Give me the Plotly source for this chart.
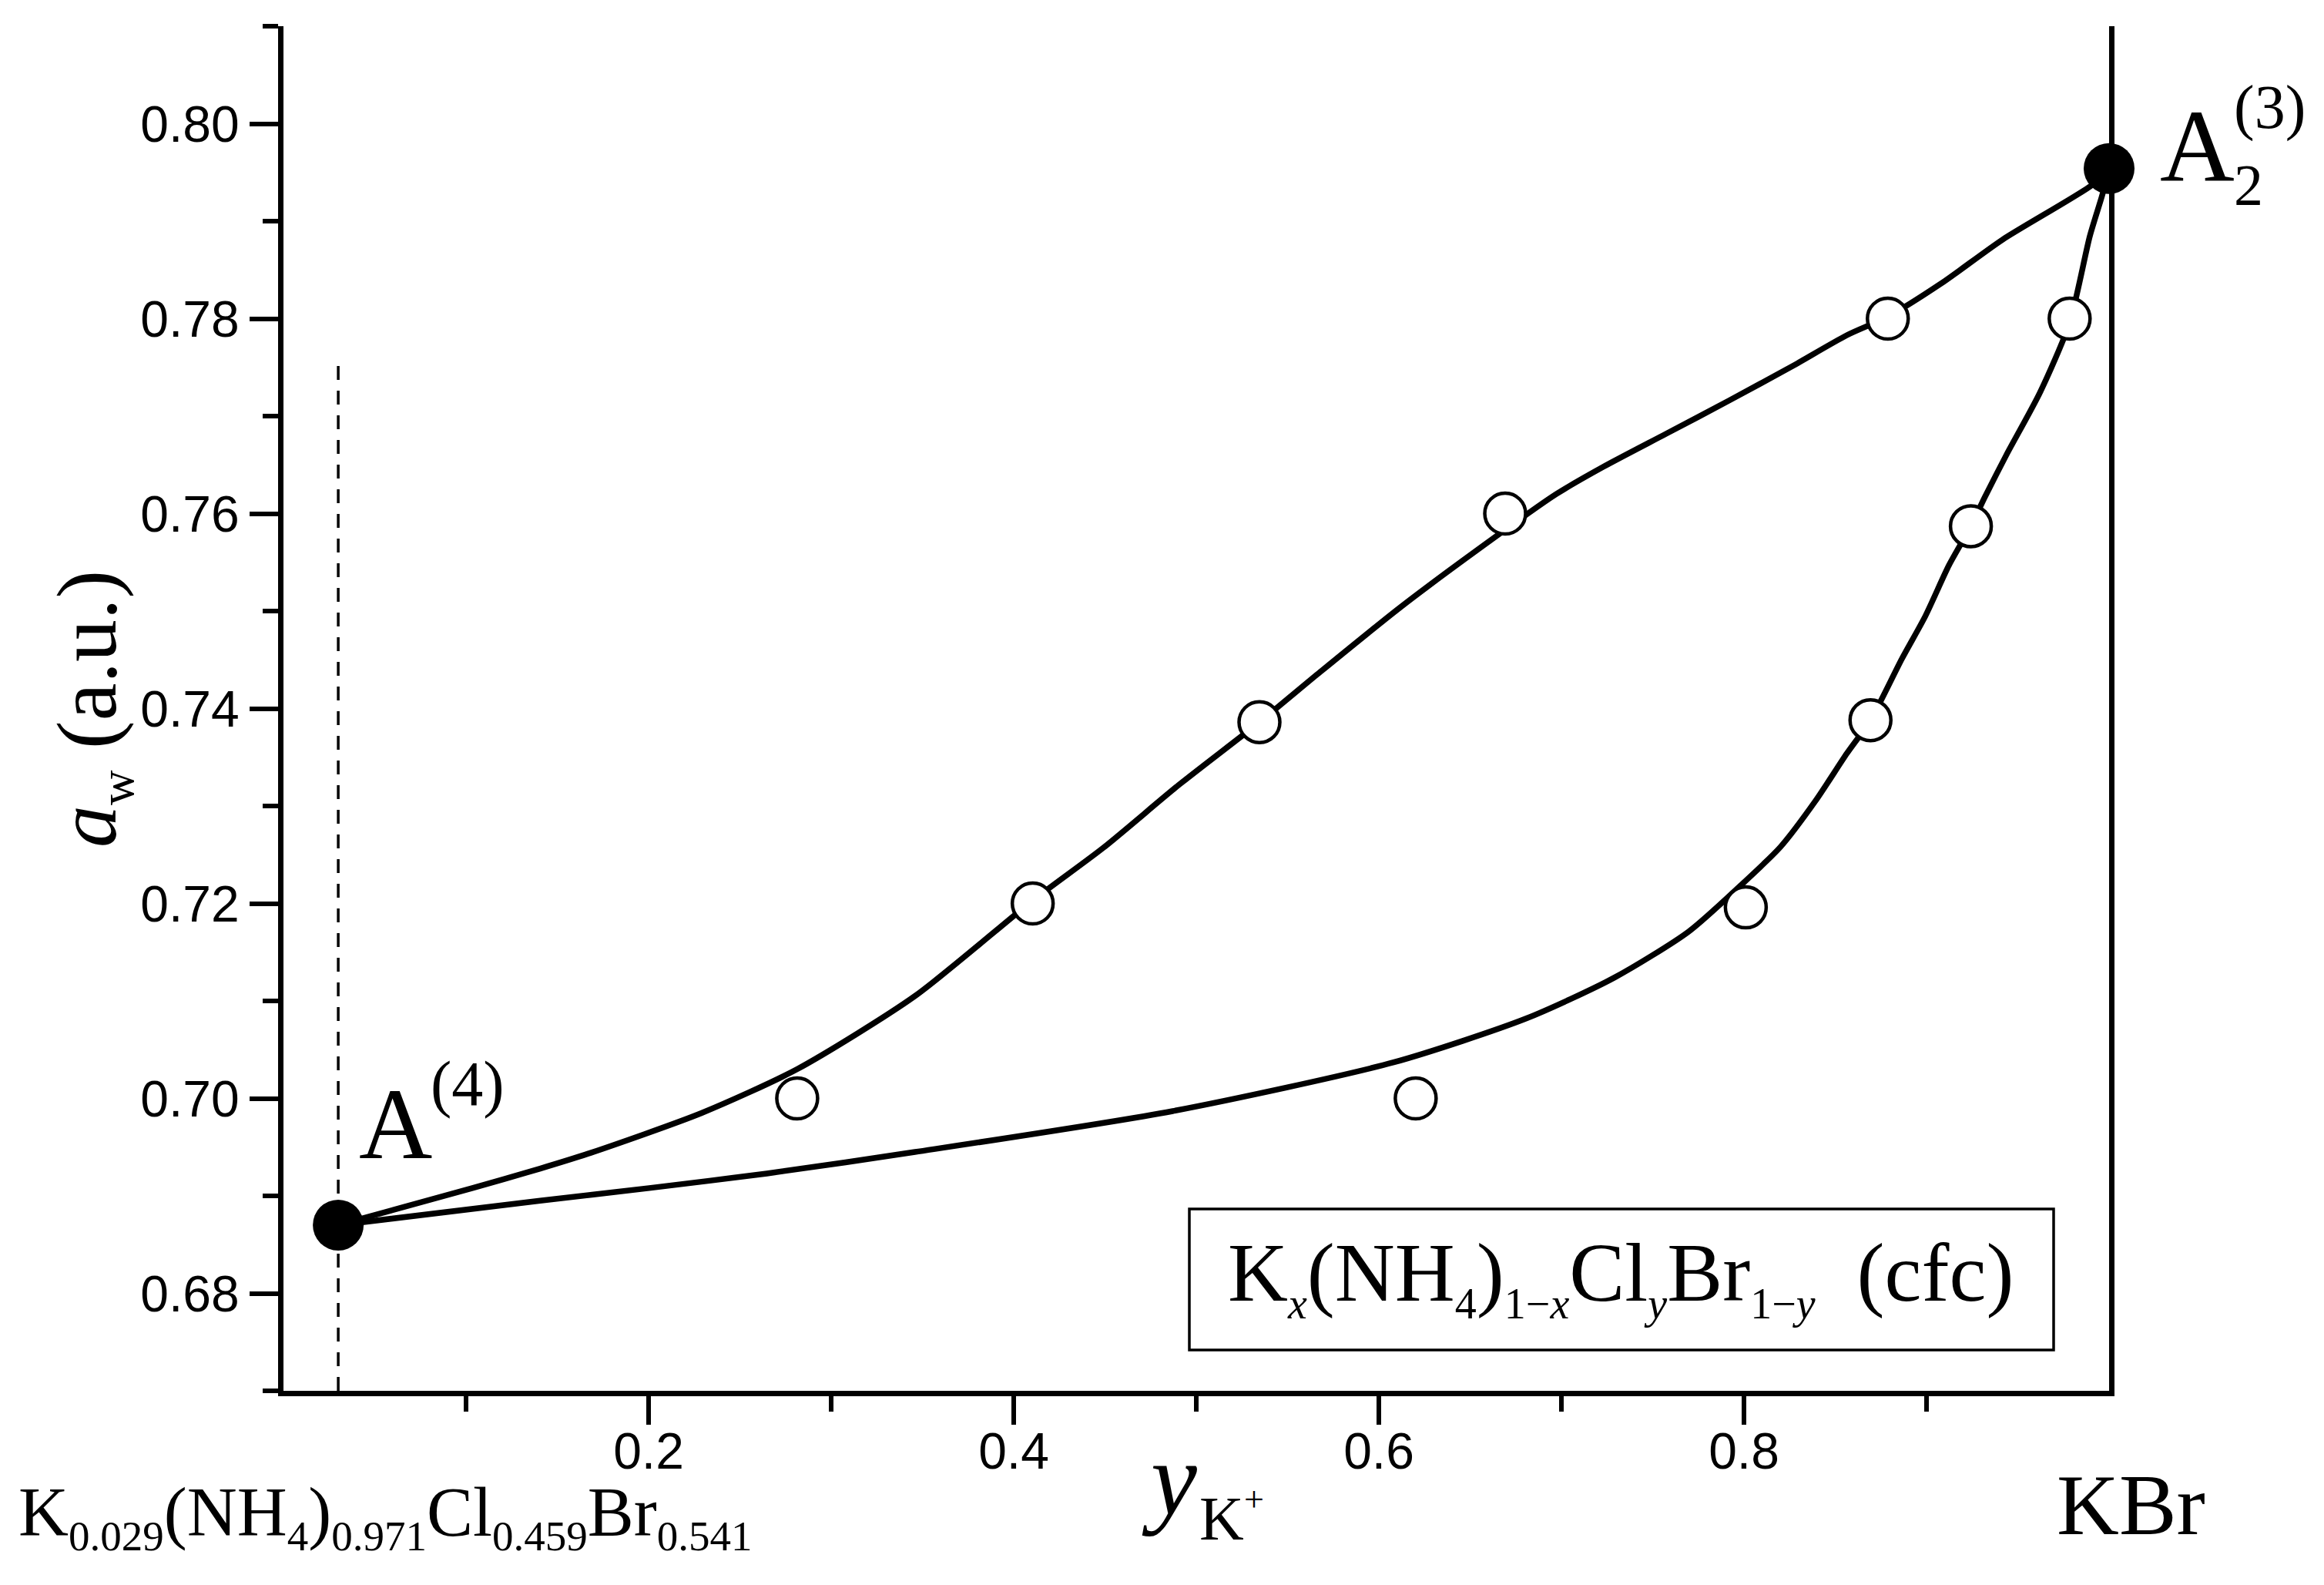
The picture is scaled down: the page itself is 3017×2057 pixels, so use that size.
import plotly.graph_objects as go

# ---------------- data ----------------
upper_curve_x = [0.030, 0.1035, 0.1406, 0.1680, 0.2290, 0.2814, 0.3459, 0.4104, 0.4490, 0.4907,
                 0.5346, 0.5682, 0.6112, 0.6542, 0.6972, 0.7230, 0.7575, 0.7919, 0.8263, 0.8564,
                 0.8788, 0.9080, 0.9416, 0.9906, 1.000]
upper_curve_y = [0.6870, 0.6908, 0.6928, 0.6944, 0.6985, 0.7030, 0.7105, 0.7203, 0.7257, 0.7322,
                 0.7386, 0.7438, 0.7503, 0.7563, 0.7620, 0.7648, 0.7682, 0.7716, 0.7751, 0.7783,
                 0.7802, 0.7836, 0.7881, 0.7937, 0.7954]

lower_curve_x = [0.030, 0.1406, 0.2003, 0.2648, 0.3459, 0.4871, 0.6081, 0.6807, 0.7291, 0.7696,
                 0.7979, 0.8200, 0.8391, 0.8564, 0.8693, 0.8865, 0.8994, 0.9123, 0.9243, 0.9317,
                 0.9437, 0.9621, 0.9784, 0.9895, 0.9963, 1.000]
lower_curve_y = [0.6870, 0.6895, 0.6908, 0.6923, 0.6945, 0.6987, 0.7037, 0.7082, 0.7124, 0.7171,
                 0.7218, 0.7258, 0.7305, 0.7354, 0.7388, 0.7451, 0.7495, 0.7547, 0.7587, 0.7616,
                 0.7660, 0.7724, 0.7796, 0.7885, 0.7927, 0.7954]

upper_points_x = [0.2814, 0.4104, 0.5346, 0.6692, 0.8788]
upper_points_y = [0.700, 0.720, 0.7386, 0.760, 0.780]

lower_points_x = [0.6202, 0.8010, 0.8693, 0.9243, 0.9784]
lower_points_y = [0.700, 0.7196, 0.7388, 0.7587, 0.780]

invariant_x = [0.030, 1.000]
invariant_y = [0.6870, 0.7954]

dashed_x = 0.030
dashed_y_top = 0.776

x_range = [0.0, 1.0]
y_range = [0.67, 0.81]
x_major = [0.2, 0.4, 0.6, 0.8]
x_major_labels = ["0.2", "0.4", "0.6", "0.8"]
x_minor = [0.1, 0.3, 0.5, 0.7, 0.9]
y_major = [0.68, 0.70, 0.72, 0.74, 0.76, 0.78, 0.80]
y_major_labels = ["0.68", "0.70", "0.72", "0.74", "0.76", "0.78", "0.80"]
y_minor = [0.67, 0.69, 0.71, 0.73, 0.75, 0.77, 0.79, 0.81]

# ---------------- layout geometry ----------------
W, H = 3017, 2057
L, R, T, B = 368, 279, 34, 252
PW = W - L - R
PH = H - T - B


def px(x):
    return (x - L) / PW


def py(y):
    return (H - B - y) / PH


SERIF = "Liberation Serif"
SANS = "Liberation Sans"

fig = go.Figure()

fig.add_trace(go.Scatter(x=upper_curve_x, y=upper_curve_y, mode="lines",
                         line=dict(color="black", width=7.5, shape="spline", smoothing=0.7),
                         showlegend=False, hoverinfo="skip", cliponaxis=False))
fig.add_trace(go.Scatter(x=lower_curve_x, y=lower_curve_y, mode="lines",
                         line=dict(color="black", width=7.5, shape="spline", smoothing=0.7),
                         showlegend=False, hoverinfo="skip", cliponaxis=False))
fig.add_trace(go.Scatter(x=upper_points_x + lower_points_x, y=upper_points_y + lower_points_y,
                         mode="markers", cliponaxis=False,
                         marker=dict(symbol="circle", size=53, color="white",
                                     line=dict(color="black", width=4.5)),
                         showlegend=False))
fig.add_trace(go.Scatter(x=invariant_x, y=invariant_y, mode="markers", cliponaxis=False,
                         marker=dict(symbol="circle", size=66, color="black",
                                     line=dict(width=0)),
                         showlegend=False))

# dashed vertical line at the A(4) composition
fig.add_shape(type="line", xref="x", yref="y", x0=dashed_x, x1=dashed_x,
              y0=y_range[0], y1=dashed_y_top, layer="below",
              line=dict(color="black", width=3.5, dash="18px,14px"))

# box around the phase label
fig.add_shape(type="rect", xref="paper", yref="paper",
              x0=px(1544), x1=px(2666), y0=py(1752), y1=py(1569),
              line=dict(color="black", width=3.5), fillcolor="rgba(0,0,0,0)", layer="above")

ann = []


def add_text(text, x, y, size, xanchor="center", yanchor="middle", angle=0, family=SERIF):
    ann.append(dict(text=text, x=px(x), y=py(y), xref="paper", yref="paper",
                    xanchor=xanchor, yanchor=yanchor, showarrow=False, textangle=angle,
                    font=dict(family=family, size=size, color="black")))


def sub(t, s):
    return "<sub><span style='font-size:%dpx'>%s</span></sub>" % (s, t)


# phase label inside box
legend_txt = ("K" + sub("<i>x</i>", 56) + "(NH" + sub("4", 56) + ")" + sub("1\u2212<i>x</i>", 56)
              + "Cl" + sub("<i>y</i>", 56) + "Br" + sub("1\u2212<i>y</i>", 56)
              + "\u00a0\u00a0(cfc)")
add_text(legend_txt, 2104, 1657, 108)

# A(4)
add_text("A", 513, 1458, 132)
add_text("(4)", 607, 1406, 82)
# A2(3)
add_text("A", 2852, 189, 134)
add_text("2", 2919, 240, 76)
add_text("(3)", 2946, 140, 80)

# bottom labels
bl_txt = ("K" + sub("0.029", 55) + "(NH" + sub("4", 55) + ")" + sub("0.971", 55)
          + "Cl" + sub("0.459", 55) + "Br" + sub("0.541", 55))
add_text(bl_txt, 22, 1968, 90, xanchor="left")
add_text("KBr", 2766, 1953, 112)

# x-axis title  y_{K+}
add_text("<i>y</i>", 1518, 1920, 135)
add_text("K", 1586, 1971, 80)
add_text("+", 1628, 1945, 46)

# y-axis title  a_w (a.u.)
add_text("<i>a</i>" + sub("w", 63) + " (a.u.)", 120, 920, 110, angle=-90)

fig.update_layout(
    width=W, height=H,
    margin=dict(l=L, r=R, t=T, b=B, pad=0),
    paper_bgcolor="white", plot_bgcolor="white",
    showlegend=False,
    annotations=ann,
    xaxis=dict(range=x_range, showgrid=False, zeroline=False,
               showline=True, linecolor="black", linewidth=7, mirror=False,
               ticks="outside", ticklen=37, tickwidth=6, tickcolor="black",
               tickmode="array", tickvals=x_major, ticktext=x_major_labels,
               tickfont=dict(family=SANS, size=66, color="black"),
               ticklabelstandoff=-22,
               minor=dict(ticks="outside", ticklen=20, tickwidth=6, tickcolor="black",
                          tickmode="array", tickvals=x_minor, showgrid=False)),
    yaxis=dict(range=y_range, showgrid=False, zeroline=False,
               showline=True, linecolor="black", linewidth=7, mirror=True,
               ticks="outside", ticklen=37, tickwidth=6, tickcolor="black",
               tickmode="array", tickvals=y_major, ticktext=y_major_labels,
               tickfont=dict(family=SANS, size=66, color="black"),
               ticklabelstandoff=0,
               minor=dict(ticks="outside", ticklen=20, tickwidth=6, tickcolor="black",
                          tickmode="array", tickvals=y_minor, showgrid=False)),
)

fig.write_html("out.html", config={"displayModeBar": False},
               post_script="document.body.style.margin='0';document.body.style.overflow='hidden';")
